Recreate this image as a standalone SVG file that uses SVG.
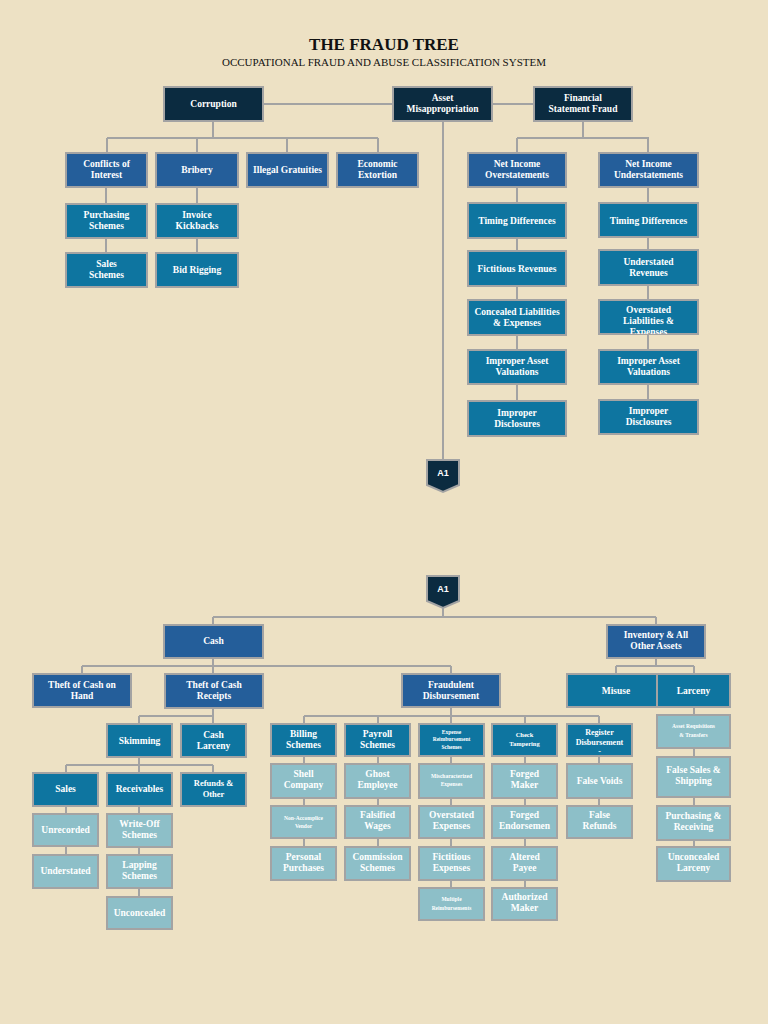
<svg xmlns="http://www.w3.org/2000/svg" width="768" height="1024" viewBox="0 0 768 1024">
<style>
rect{stroke:#A3A3A3;stroke-width:2}
.d{fill:#0B2B40}.m{fill:#245E9A}.t{fill:#0E75A0}.l{fill:#8DBFC8}
text{font-family:"Liberation Serif","Times New Roman",serif;font-weight:bold;fill:#fff;text-anchor:middle;font-size:9.5px}
.s{font-size:5.5px}
.c path{fill:none;stroke:#A3A3A3;stroke-width:2}
</style>
<defs><clipPath id="cl"><rect x="599" y="300" width="99" height="34"/></clipPath></defs>
<rect x="0" y="0" width="768" height="1024" style="fill:#EDE1C4;stroke:none"/>
<text x="384" y="50" style="fill:#111;font-size:17px">THE FRAUD TREE</text>
<text x="384" y="66" style="fill:#111;font-size:11px;font-weight:normal">OCCUPATIONAL FRAUD AND ABUSE CLASSIFICATION SYSTEM</text>
<g class="c" id="connectors">
<path d="M263 104H534M213 121V138M107 138H378M107 138V153M197 138V153M287 138V153M378 138V153M106 187V253M197 187V253"/>
<path d="M583 121V138M517 138H648V153M517 138V153M517 187V401M648 187V400M443 121V460"/>
<path d="M443 608V617M213 617H656M213 617V625M656 617V625M213 658V666M82 666H451M82 666V674M213 666V674M451 666V674"/>
<path d="M656 658V666M616 666H694M616 666V674M694 666V674M694 707V847"/>
<path d="M213 708V716M139 716H213M139 716V724M213 716V724M139 757V765M66 765H213M66 765V773M139 765V773M213 765V773M66 806V855M139 806V897"/>
<path d="M451 707V716M304 716H599M304 716V724M378 716V724M451 716V724M525 716V724M599 716V724M304 756V847M378 756V847M451 756V888M525 756V888M599 756V806"/>
</g>
<g id="corruption"><rect class="d" x="164" y="87" width="99" height="34"/><text x="213.5" y="107">Corruption</text></g>
<g id="asset"><rect class="d" x="393" y="87" width="99" height="34"/><text x="442.5" y="101">Asset</text><text x="442.5" y="112">Misappropriation</text></g>
<g id="fsf"><rect class="d" x="534" y="87" width="98" height="34"/><text x="583" y="101">Financial</text><text x="583" y="112">Statement Fraud</text></g>
<g id="coi"><rect class="m" x="66" y="153" width="81" height="34"/><text x="106.5" y="167">Conflicts of</text><text x="106.5" y="178">Interest</text></g>
<g id="bribery"><rect class="m" x="156" y="153" width="82" height="34"/><text x="197" y="173">Bribery</text></g>
<g id="ig"><rect class="m" x="247" y="153" width="81" height="34"/><text x="287.5" y="173">Illegal Gratuities</text></g>
<g id="ee"><rect class="m" x="337" y="153" width="81" height="34"/><text x="377.5" y="167">Economic</text><text x="377.5" y="178">Extortion</text></g>
<g id="ps"><rect class="t" x="66" y="204" width="81" height="34"/><text x="106.5" y="218">Purchasing</text><text x="106.5" y="229">Schemes</text></g>
<g id="ik"><rect class="t" x="156" y="204" width="82" height="34"/><text x="197" y="218">Invoice</text><text x="197" y="229">Kickbacks</text></g>
<g id="ss"><rect class="t" x="66" y="253" width="81" height="34"/><text x="106.5" y="267">Sales</text><text x="106.5" y="278">Schemes</text></g>
<g id="br"><rect class="t" x="156" y="253" width="82" height="34"/><text x="197" y="273">Bid Rigging</text></g>
<g id="nio"><rect class="m" x="468" y="153" width="98" height="34"/><text x="517" y="167">Net Income</text><text x="517" y="178">Overstatements</text></g>
<g id="niu"><rect class="m" x="599" y="153" width="99" height="34"/><text x="648.5" y="167">Net Income</text><text x="648.5" y="178">Understatements</text></g>
<g id="td1"><rect class="t" x="468" y="203" width="98" height="35"/><text x="517" y="224">Timing Differences</text></g>
<g id="fr"><rect class="t" x="468" y="251" width="98" height="35"/><text x="517" y="272">Fictitious Revenues</text></g>
<g id="clx"><rect class="t" x="468" y="300" width="98" height="35"/><text x="517" y="315">Concealed Liabilities</text><text x="517" y="326">&amp; Expenses</text></g>
<g id="iav1"><rect class="t" x="468" y="350" width="98" height="34"/><text x="517" y="364">Improper Asset</text><text x="517" y="375">Valuations</text></g>
<g id="id1"><rect class="t" x="468" y="401" width="98" height="35"/><text x="517" y="416">Improper</text><text x="517" y="427">Disclosures</text></g>
<g id="td2"><rect class="t" x="599" y="203" width="99" height="34"/><text x="648.5" y="224">Timing Differences</text></g>
<g id="ur"><rect class="t" x="599" y="250" width="99" height="35"/><text x="648.5" y="265">Understated</text><text x="648.5" y="276">Revenues</text></g>
<g id="olx"><rect class="t" x="599" y="300" width="99" height="34"/><g clip-path="url(#cl)"><text x="648.5" y="313">Overstated</text><text x="648.5" y="324">Liabilities &amp;</text><text x="648.5" y="335">Expenses</text></g></g>
<g id="iav2"><rect class="t" x="599" y="350" width="99" height="34"/><text x="648.5" y="364">Improper Asset</text><text x="648.5" y="375">Valuations</text></g>
<g id="id2"><rect class="t" x="599" y="400" width="99" height="34"/><text x="648.5" y="414">Improper</text><text x="648.5" y="425">Disclosures</text></g>
<g id="a1top"><path d="M427 460H459V485L443 492L427 485Z" fill="#0B2B40" stroke="#A3A3A3" stroke-width="2"/><text x="443" y="476" style="font-family:'Liberation Sans',Arial,sans-serif;font-size:9px">A1</text></g>
<g id="a1bot"><path d="M427 576H459V601L443 608L427 601Z" fill="#0B2B40" stroke="#A3A3A3" stroke-width="2"/><text x="443" y="592" style="font-family:'Liberation Sans',Arial,sans-serif;font-size:9px">A1</text></g>
<g id="cash"><rect class="m" x="164" y="625" width="99" height="33"/><text x="213.5" y="644">Cash</text></g>
<g id="inv"><rect class="m" x="607" y="625" width="98" height="33"/><text x="656" y="638">Inventory &amp; All</text><text x="656" y="649">Other Assets</text></g>
<g id="tch"><rect class="m" x="33" y="674" width="98" height="33"/><text x="82" y="688">Theft of Cash on</text><text x="82" y="699">Hand</text></g>
<g id="tcr"><rect class="m" x="165" y="674" width="98" height="34"/><text x="214" y="688">Theft of Cash</text><text x="214" y="699">Receipts</text></g>
<g id="fd"><rect class="m" x="402" y="674" width="98" height="33"/><text x="451" y="688">Fraudulent</text><text x="451" y="699">Disbursement</text></g>
<g id="misuse"><rect class="t" x="567" y="674" width="98" height="33"/><text x="616" y="694">Misuse</text></g>
<g id="larceny"><rect class="t" x="657" y="674" width="73" height="33"/><text x="693.5" y="694">Larceny</text></g>
<g id="skim"><rect class="t" x="107" y="724" width="65" height="33"/><text x="139.5" y="744">Skimming</text></g>
<g id="cl2"><rect class="t" x="181" y="724" width="65" height="33"/><text x="213.5" y="738">Cash</text><text x="213.5" y="749">Larceny</text></g>
<g id="sales"><rect class="t" x="33" y="773" width="65" height="33"/><text x="65.5" y="792">Sales</text></g>
<g id="recv"><rect class="t" x="107" y="773" width="65" height="33"/><text x="139.5" y="792">Receivables</text></g>
<g id="ref"><rect class="t" x="181" y="773" width="65" height="33"/><text x="213.5" y="786" style="font-size:8.5px">Refunds &amp;</text><text x="213.5" y="797" style="font-size:8.5px">Other</text></g>
<g id="unrec"><rect class="l" x="33" y="814" width="65" height="32"/><text x="65.5" y="833">Unrecorded</text></g>
<g id="under"><rect class="l" x="33" y="855" width="65" height="33"/><text x="65.5" y="874">Understated</text></g>
<g id="wo"><rect class="l" x="107" y="814" width="65" height="33"/><text x="139.5" y="827">Write-Off</text><text x="139.5" y="838">Schemes</text></g>
<g id="lap"><rect class="l" x="107" y="855" width="65" height="33"/><text x="139.5" y="868">Lapping</text><text x="139.5" y="879">Schemes</text></g>
<g id="uncon"><rect class="l" x="107" y="897" width="65" height="32"/><text x="139.5" y="916">Unconcealed</text></g>
<g id="bill"><rect class="t" x="271" y="724" width="65" height="32"/><text x="303.5" y="737">Billing</text><text x="303.5" y="748">Schemes</text></g>
<g id="pay"><rect class="t" x="345" y="724" width="65" height="32"/><text x="377.5" y="737">Payroll</text><text x="377.5" y="748">Schemes</text></g>
<g id="exp"><rect class="t" x="419" y="724" width="65" height="32"/><text class="s" x="451.5" y="734">Expense</text><text class="s" x="451.5" y="741">Reimbursement</text><text class="s" x="451.5" y="749">Schemes</text></g>
<g id="chk"><rect class="t" x="492" y="724" width="65" height="32"/><text x="524.5" y="737" style="font-size:6.5px">Check</text><text x="524.5" y="746" style="font-size:6.5px">Tampering</text></g>
<g id="reg"><rect class="t" x="567" y="724" width="65" height="32"/><text x="599.5" y="735" style="font-size:8px">Register</text><text x="599.5" y="745" style="font-size:8px">Disbursement</text><text x="599.5" y="754" style="font-size:8px">-</text></g>
<g id="shell"><rect class="l" x="271" y="764" width="65" height="34"/><text x="303.5" y="777">Shell</text><text x="303.5" y="788">Company</text></g>
<g id="nav"><rect class="l" x="271" y="806" width="65" height="32"/><text class="s" x="303.5" y="820">Non-Accomplice</text><text class="s" x="303.5" y="828">Vendor</text></g>
<g id="pp"><rect class="l" x="271" y="847" width="65" height="33"/><text x="303.5" y="860">Personal</text><text x="303.5" y="871">Purchases</text></g>
<g id="ghost"><rect class="l" x="345" y="764" width="65" height="34"/><text x="377.5" y="777">Ghost</text><text x="377.5" y="788">Employee</text></g>
<g id="fw"><rect class="l" x="345" y="806" width="65" height="32"/><text x="377.5" y="818">Falsified</text><text x="377.5" y="829">Wages</text></g>
<g id="cs"><rect class="l" x="345" y="847" width="65" height="33"/><text x="377.5" y="860">Commission</text><text x="377.5" y="871">Schemes</text></g>
<g id="mis"><rect class="l" x="419" y="764" width="65" height="34"/><text class="s" x="451.5" y="778">Mischaracterized</text><text class="s" x="451.5" y="786">Expenses</text></g>
<g id="oe"><rect class="l" x="419" y="806" width="65" height="32"/><text x="451.5" y="818">Overstated</text><text x="451.5" y="829">Expenses</text></g>
<g id="fe"><rect class="l" x="419" y="847" width="65" height="33"/><text x="451.5" y="860">Fictitious</text><text x="451.5" y="871">Expenses</text></g>
<g id="mr"><rect class="l" x="419" y="888" width="65" height="32"/><text class="s" x="451.5" y="901">Multiple</text><text class="s" x="451.5" y="910">Reimbursements</text></g>
<g id="fm"><rect class="l" x="492" y="764" width="65" height="34"/><text x="524.5" y="777">Forged</text><text x="524.5" y="788">Maker</text></g>
<g id="fen"><rect class="l" x="492" y="806" width="65" height="32"/><text x="524.5" y="818">Forged</text><text x="524.5" y="829">Endorsemen</text></g>
<g id="ap"><rect class="l" x="492" y="847" width="65" height="33"/><text x="524.5" y="860">Altered</text><text x="524.5" y="871">Payee</text></g>
<g id="am"><rect class="l" x="492" y="888" width="65" height="32"/><text x="524.5" y="900">Authorized</text><text x="524.5" y="911">Maker</text></g>
<g id="fv"><rect class="l" x="567" y="764" width="65" height="34"/><text x="599.5" y="784">False Voids</text></g>
<g id="frf"><rect class="l" x="567" y="806" width="65" height="32"/><text x="599.5" y="818">False</text><text x="599.5" y="829">Refunds</text></g>
<g id="art"><rect class="l" x="657" y="715" width="73" height="33"/><text class="s" x="693.5" y="728">Asset Requisitions</text><text class="s" x="693.5" y="737">&amp; Transfers</text></g>
<g id="fss"><rect class="l" x="657" y="757" width="73" height="40"/><text x="693.5" y="773">False Sales &amp;</text><text x="693.5" y="784">Shipping</text></g>
<g id="pr"><rect class="l" x="657" y="806" width="73" height="34"/><text x="693.5" y="819">Purchasing &amp;</text><text x="693.5" y="830">Receiving</text></g>
<g id="ul"><rect class="l" x="657" y="847" width="73" height="34"/><text x="693.5" y="860">Unconcealed</text><text x="693.5" y="871">Larceny</text></g>
</svg>
